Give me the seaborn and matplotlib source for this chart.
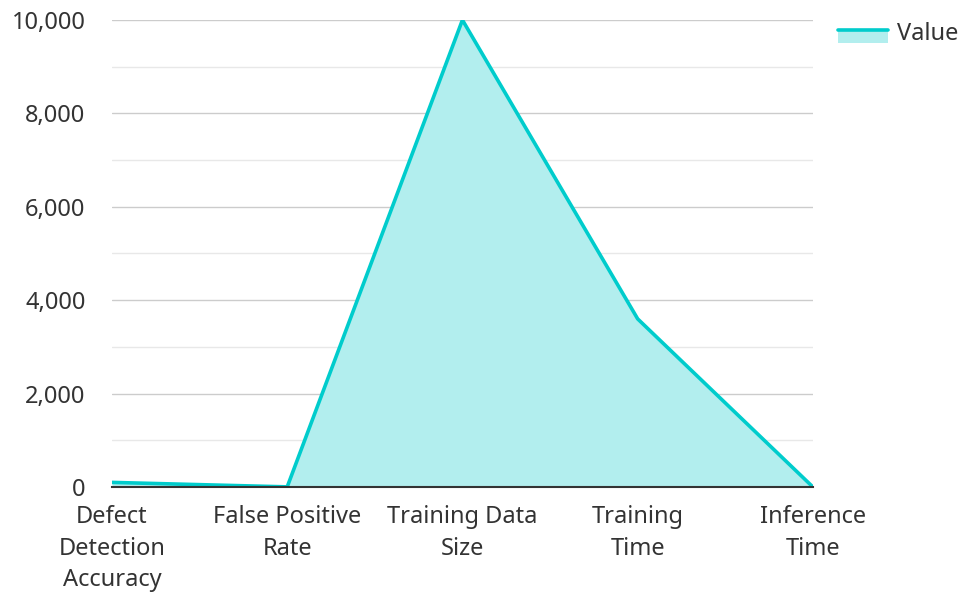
import matplotlib
matplotlib.use("Agg")
import matplotlib.pyplot as plt
import seaborn as sns
import pandas as pd
from matplotlib.patches import Rectangle
from matplotlib.lines import Line2D
from matplotlib.legend_handler import HandlerBase
from matplotlib.ticker import FuncFormatter, MultipleLocator

categories = ["Defect\nDetection\nAccuracy", "False Positive\nRate", "Training Data\nSize",
              "Training\nTime", "Inference\nTime"]
values = [98, 2, 10000, 3600, 0.05]
series_name = "Value"

line_color = "#00CCCC"
fill_color = "#B2EEEE"

sns.set_theme(style="white")
plt.rcParams['font.family'] = ['Noto Sans', 'DejaVu Sans']

df = pd.DataFrame({"x": list(range(len(categories))), "y": values})

fig = plt.figure(figsize=(9.62, 5.92), dpi=100)
ax = fig.add_axes([0.1164, 0.1774, 0.845 - 0.1164, 0.9662 - 0.1774])

ax.fill_between(df["x"], df["y"], 0, color=fill_color, alpha=1.0, linewidth=0, zorder=2)
sns.lineplot(data=df, x="x", y="y", ax=ax, color=line_color, linewidth=2.6, zorder=3, legend=False)

ax.set_xlim(0, len(categories) - 1)
ax.set_ylim(0, 10000)
ax.yaxis.set_major_locator(MultipleLocator(2000))
ax.yaxis.set_minor_locator(MultipleLocator(1000))
ax.yaxis.set_major_formatter(FuncFormatter(lambda v, p: f"{int(v):,}"))
ax.grid(axis="y", which="major", color="#CCCCCC", linewidth=1, zorder=1)
ax.grid(axis="y", which="minor", color="#E8E8E8", linewidth=1, zorder=1)
ax.set_axisbelow(True)

ax.set_xticks(df["x"])
ax.set_xticklabels(categories, linespacing=1.42)
ax.tick_params(axis="both", which="both", length=0, labelsize=17, colors="#333333")
ax.tick_params(axis="x", pad=13)
ax.tick_params(axis="y", pad=19)
ax.set_xlabel("")
ax.set_ylabel("")
for s in ["top", "right", "left"]:
    ax.spines[s].set_visible(False)
ax.spines["bottom"].set_color("#333333")
ax.spines["bottom"].set_linewidth(1.5)
ax.spines["bottom"].set_zorder(4)


class AreaHandler(HandlerBase):
    def create_artists(self, legend, orig_handle, xdescent, ydescent, width, height, fontsize, trans):
        r = Rectangle((-xdescent, -ydescent - height * 0.2), width, height * 0.8,
                      facecolor=fill_color, edgecolor="none", transform=trans)
        l = Line2D([-xdescent, -xdescent + width], [-ydescent + height * 0.6, -ydescent + height * 0.6],
                   color=line_color, linewidth=2.6, transform=trans)
        return [r, l]


handle = Rectangle((0, 0), 1, 1)
fig.legend([handle], [series_name], handler_map={Rectangle: AreaHandler()},
           loc="upper left", bbox_to_anchor=(838 / 962, 0.963), frameon=False,
           borderpad=0, borderaxespad=0,
           fontsize=17, handlelength=2.12, labelcolor="#333333", handletextpad=0.38)

fig.savefig("out.png", dpi=100)
